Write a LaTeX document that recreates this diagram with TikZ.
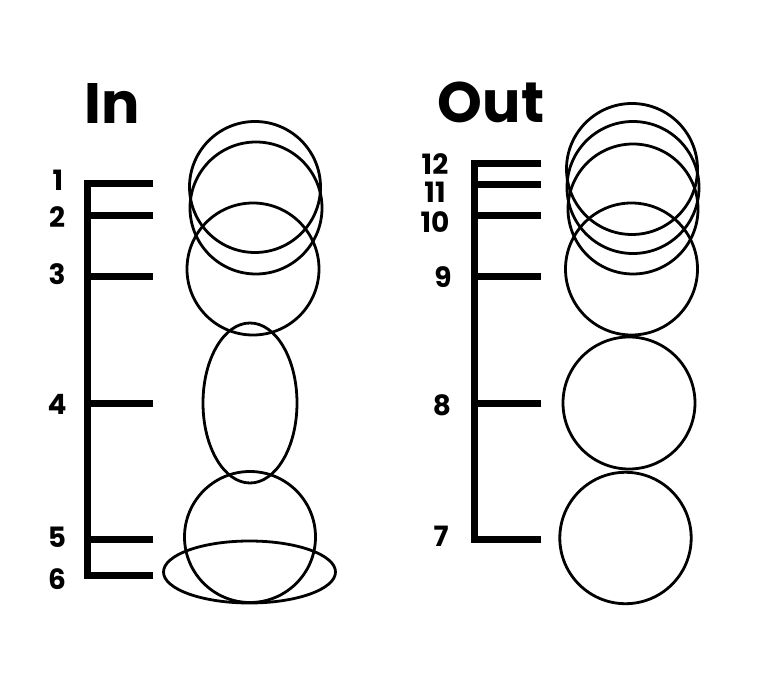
\documentclass[tikz,border=0pt]{standalone}
\usepackage{fontspec}
\setmainfont{Poppins}[BoldFont={* Bold}]
\begin{document}
\begin{tikzpicture}[x=1pt,y=-1pt,
  bar/.style={line width=7pt,line join=miter},
  ring/.style={line width=2.8pt},
  num/.style={font=\fontsize{28}{28}\selectfont\bfseries,inner sep=0pt},
  ttl/.style={font=\fontsize{57}{57}\selectfont\bfseries,inner sep=0pt}]
\useasboundingbox (0,0) rectangle (766,700);
% titles
\node[ttl] (tin) at (112,103) {In};
\node[ttl] (tout) at (491,102) {Out};
% left scale
\draw[bar] (153,184) -- (87,184) -- (87,575) -- (153,575);
\foreach \y in {216,277,404,539} \draw[bar] (87,\y) -- (153,\y);
\node[num] (n1) at (58,180) {1};
\node[num] (n2) at (57,217) {2};
\node[num] (n3) at (57,274) {3};
\node[num] (n4) at (57,404) {4};
\node[num] (n5) at (57,537) {5};
\node[num] (n6) at (57,579) {6};
% right scale
\draw[bar] (541,164) -- (474,164) -- (474,539) -- (541,539);
\foreach \y in {185,216,277,404} \draw[bar] (474,\y) -- (541,\y);
\node[num] (n12) at (435,164) {12};
\node[num] (n11) at (435,192) {11};
\node[num] (n10) at (435,222) {10};
\node[num] (n9) at (443,277) {9};
\node[num] (n8) at (442,405) {8};
\node[num] (n7) at (441,536) {7};
% left shapes
\draw[ring] (255,187) circle (65.5);
\draw[ring] (256,208) circle (66);
\draw[ring] (253,269) circle (66);
\draw[ring] (250,403) ellipse (47 and 80);
\draw[ring] (250,537) circle (65.5);
\draw[ring] (249.5,572) ellipse (86 and 31);
% right shapes
\draw[ring] (632,169) circle (65.5);
\draw[ring] (633,187.5) circle (66);
\draw[ring] (633,209) circle (65);
\draw[ring] (631.5,269) circle (66);
\draw[ring] (629,403) circle (66);
\draw[ring] (625.5,538) circle (65.7);
\end{tikzpicture}
\end{document}
